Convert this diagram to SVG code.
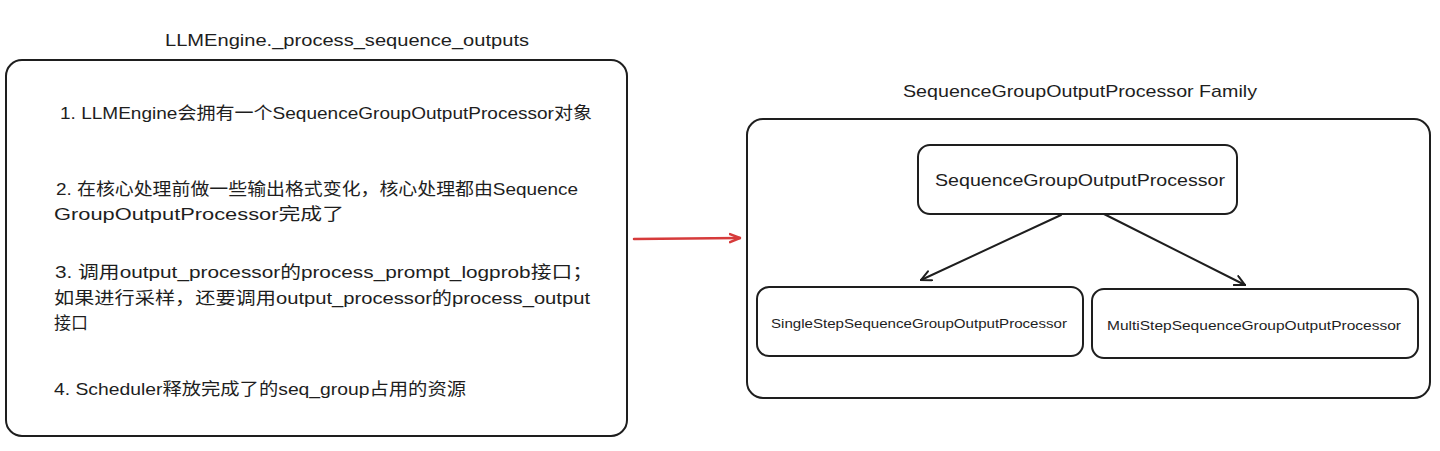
<svg xmlns="http://www.w3.org/2000/svg" width="1440" height="451" viewBox="0 0 1440 451">
<style>
.box{fill:#fff;stroke:#1e1e1e;stroke-width:2}
text{font-family:"Liberation Sans","Noto Sans CJK SC",sans-serif;fill:#1e1e1e}
.t{font-size:17px}
.s{font-size:13px}
.ln{fill:none;stroke:#1e1e1e;stroke-width:2;stroke-linecap:round}
</style>
<defs>
<marker id="ah" viewBox="0 0 12 12" refX="11" refY="6" markerWidth="12" markerHeight="12" markerUnits="userSpaceOnUse" orient="auto"><path d="M1 1 L11 6 L1 11" fill="none" stroke="#1e1e1e" stroke-width="2" stroke-linecap="round"/></marker>
<marker id="ar" viewBox="0 0 12 12" refX="11" refY="6" markerWidth="12" markerHeight="12" markerUnits="userSpaceOnUse" orient="auto"><path d="M1 2 L11 6 L1 10" fill="none" stroke="#d63b3b" stroke-width="2.5" stroke-linecap="round"/></marker>
</defs>
<text x="347" y="46" class="t" text-anchor="middle" textLength="364" lengthAdjust="spacingAndGlyphs">LLMEngine._process_sequence_outputs</text>
<g id="left">
<rect class="box" x="6" y="60" width="621" height="376" rx="16"/>
<text x="60" y="119" class="t" textLength="532" lengthAdjust="spacingAndGlyphs">1. LLMEngine会拥有一个SequenceGroupOutputProcessor对象</text>
<text x="56" y="195" class="t" textLength="522" lengthAdjust="spacingAndGlyphs">2. 在核心处理前做一些输出格式变化，核心处理都由Sequence</text>
<text x="54" y="220" class="t" textLength="290" lengthAdjust="spacingAndGlyphs">GroupOutputProcessor完成了</text>
<text x="55" y="278" class="t" textLength="538" lengthAdjust="spacingAndGlyphs">3. 调用output_processor的process_prompt_logprob接口；</text>
<text x="54" y="304" class="t" textLength="536" lengthAdjust="spacingAndGlyphs">如果进行采样，还要调用output_processor的process_output</text>
<text x="54" y="329" class="t">接口</text>
<text x="54" y="395" class="t" textLength="412" lengthAdjust="spacingAndGlyphs">4. Scheduler释放完成了的seq_group占用的资源</text>
</g>
<text x="1080" y="97" class="t" text-anchor="middle" textLength="354" lengthAdjust="spacingAndGlyphs">SequenceGroupOutputProcessor Family</text>
<g id="family"><rect class="box" x="747" y="119" width="683" height="279" rx="16"/></g>
<g id="sgop"><rect class="box" x="918" y="145" width="319" height="69" rx="12"/>
<text x="1080" y="186" class="t" text-anchor="middle" textLength="290" lengthAdjust="spacingAndGlyphs">SequenceGroupOutputProcessor</text></g>
<g id="single"><rect class="box" x="757" y="287" width="326" height="69" rx="12"/>
<text x="919" y="328" class="s" text-anchor="middle" textLength="296" lengthAdjust="spacingAndGlyphs">SingleStepSequenceGroupOutputProcessor</text></g>
<g id="multi"><rect class="box" x="1092" y="289" width="326" height="69" rx="12"/>
<text x="1254" y="330" class="s" text-anchor="middle" textLength="294" lengthAdjust="spacingAndGlyphs">MultiStepSequenceGroupOutputProcessor</text></g>
<g id="connectors">
<path class="ln" d="M634 239 L740 238" style="stroke:#d63b3b;stroke-width:2.5" marker-end="url(#ar)"/>
<path class="ln" d="M1061 215 L921 280" marker-end="url(#ah)"/>
<path class="ln" d="M1104 214 L1245 285" marker-end="url(#ah)"/>
</g>
</svg>
